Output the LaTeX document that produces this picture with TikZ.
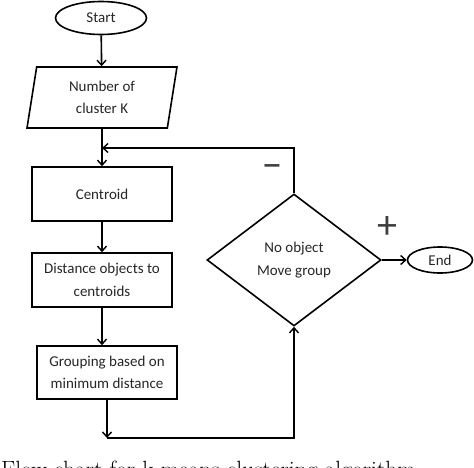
\documentclass[tikz,border=0pt]{standalone}
\usepackage{fontspec}
\newfontfamily\boxfont{Carlito}
\usetikzlibrary{shapes.geometric,arrows.meta}
\begin{document}
\begin{tikzpicture}[x=1pt,y=-1pt,
  every node/.style={font=\boxfont\fontsize{15}{22.5}\selectfont, text=black!85, align=center, inner sep=0pt},
  shp/.style={draw=black, line width=1.6pt},
  procbox/.style={shp, rectangle, minimum width=140pt},
  term/.style={shp, ellipse},
  link/.style={line width=1.6pt, draw=black},
  arr/.style={link, -{Straight Barb[length=5pt,width=9pt,line width=1.4pt]}},
  sign/.style={font=\boxfont\fontsize{40}{40}\selectfont, text=black!75}]
\useasboundingbox (0,0) rectangle (474,468);
\node[term, minimum width=91pt, minimum height=33pt] (start) at (101,18) {Start};
\node[shp, trapezium, trapezium left angle=81.6, trapezium right angle=98.4,
      trapezium stretches=true, minimum width=150pt, minimum height=61pt] (para) at (102,97.5) {Number of\\cluster K};
\node[procbox, minimum height=54pt] (cent) at (102,194) {Centroid};
\node[procbox, minimum height=54pt] (dist) at (102,280) {Distance objects to\\centroids};
\node[procbox, minimum height=53pt] (group) at (107,372.5) {Grouping based on\\minimum distance};
\node[shp, diamond, aspect=1.318, minimum width=174pt, minimum height=132pt] (dia) at (294,260) {No object\\Move group};
\node[term, minimum width=65pt, minimum height=26pt] (end) at (440,260) {End};
\coordinate (fb) at (102,148);
\coordinate (corner) at (107,438);
\draw[arr] (start) -- (para);
\draw[arr] (para.south -| cent.north) -- (cent);
\draw[arr] (cent) -- (dist);
\draw[arr] (dist.south) -- (dist.south |- group.north);
\draw[arr] (dia.north) |- (fb);
\draw[arr] (group.south) -- (corner);
\draw[arr] (corner) -| (dia.south);
\draw[arr] (dia.east) -- (end.west);
\node[sign] (minus) at (272,172) {−};
\node[sign] (plus) at (387,228) {+};
\begin{scope}
\clip (0,0) rectangle (474,468);
\node[font=\fontsize{23.5}{23.5}\selectfont, text=black, anchor=north west] (cap) at (1,461) {Flow chart for k-means clustering algorithm};
\end{scope}
\end{tikzpicture}
\end{document}
